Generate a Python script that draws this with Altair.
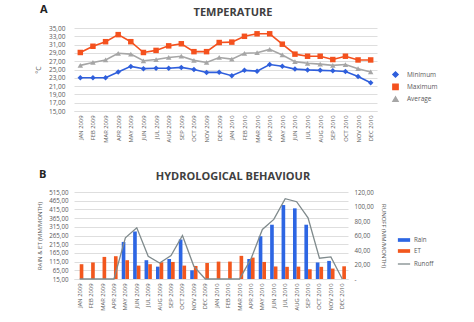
import altair as alt
import pandas as pd

months = ["JAN 2009", "FEB 2009", "MAR 2009", "APR 2009", "MAY 2009", "JUN 2009",
          "JUL 2009", "AUG 2009", "SEP 2009", "OCT 2009", "NOV 2009", "DEC 2009",
          "JAN 2010", "FEB 2010", "MAR 2010", "APR 2010", "MAY 2010", "JUN 2010",
          "JUL 2010", "AUG 2010", "SEP 2010", "OCT 2010", "NOV 2010", "DEC 2010"]

t_min = [23.0, 23.0, 23.0, 24.4, 25.75, 25.2, 25.3, 25.3, 25.5, 25.0, 24.3, 24.35,
         23.5, 24.8, 24.6, 26.2, 25.8, 25.1, 24.9, 24.8, 24.7, 24.5, 23.3, 21.8]
t_max = [29.1, 30.6, 31.7, 33.4, 31.7, 29.1, 29.6, 30.7, 31.2, 29.3, 29.3, 31.5,
         31.6, 33.0, 33.6, 33.6, 31.1, 28.7, 28.2, 28.2, 27.4, 28.2, 27.3, 27.3]
t_avg = [26.0, 26.7, 27.3, 28.9, 28.7, 27.1, 27.4, 27.9, 28.2, 27.2, 26.7, 27.9,
         27.5, 28.9, 29.05, 29.85, 28.5, 26.9, 26.5, 26.3, 26.0, 26.2, 25.2, 24.4]
temp_ticks = [15, 17, 19, 21, 23, 25, 27, 29, 31, 33, 35]

rain = [0, 0, 0, 0, 228, 288, 123, 86, 130, 242, 65, 0,
        0, 0, 0, 130, 261, 327, 440, 421, 327, 110, 119, 0]
et = [100, 110, 142, 146, 123, 92, 100, 111, 113, 92, 90, 107,
      115, 115, 148, 138, 113, 87, 85, 86, 71, 85, 75, 88]
runoff = [0, 0, 0, 0, 56.8, 70.6, 31.4, 22.1, 32.4, 60.0, 17.5, 0,
          0, 0, 0, 27.7, 68.4, 82.2, 110.7, 106.6, 84.4, 28.6, 30.4, 0]
rain_ticks = [15, 65, 115, 165, 215, 265, 315, 365, 415, 465, 515]
runoff_ticks = [0, 20, 40, 60, 80, 100, 120]

series_names = ["Minimum", "Maximum", "Average"]
series_colors = ["#2f5fdc", "#f4511e", "#a6a6a6"]
series_shapes = ["diamond", "square", "triangle-up"]

FONT = "Open Sans"
LBL = "#595959"
GRID = "#dedede"
num_expr = "replace(format(datum.value, '.2f'), '.', ',')"

temp_df = pd.DataFrame({
    "month": months * 3,
    "series": ["Minimum"] * 24 + ["Maximum"] * 24 + ["Average"] * 24,
    "value": t_min + t_max + t_avg,
})

x_t = alt.X("month:N", sort=months,
            scale=alt.Scale(type="point", padding=0.5),
            axis=alt.Axis(title=None, labelAngle=-90, labelFontSize=5.8, labelColor=LBL,
                          ticks=False, domainColor=GRID, labelPadding=4, grid=False,
                          labelFont=FONT))
y_t = alt.Y("value:Q", scale=alt.Scale(domain=[15, 35], nice=False, zero=False),
            axis=alt.Axis(values=temp_ticks, title="°C", labelExpr=num_expr,
                          labelFontSize=6.5, labelColor=LBL, labelFont=FONT,
                          domain=False, ticks=False, gridColor=GRID, labelPadding=9,
                          titleFontSize=7, titleColor=LBL, titleFont=FONT,
                          titleFontWeight="normal", titlePadding=7))

leg_t = dict(title=None, orient="none", legendX=318, legendY=43, padding=0,
             symbolSize=30, symbolStrokeWidth=1.2, labelFontSize=6.5, labelFont=FONT,
             labelColor=LBL, rowPadding=1.3, labelOffset=8)

base_t = alt.Chart(temp_df)
lines_t = base_t.mark_line(strokeWidth=1.6).encode(
    x=x_t, y=y_t,
    stroke=alt.Stroke("series:N", scale=alt.Scale(domain=series_names, range=series_colors),
                      legend=alt.Legend(**leg_t)),
)
points_t = base_t.mark_point(filled=True, size=30, opacity=1, strokeWidth=0).encode(
    x=x_t, y=y_t,
    fill=alt.Fill("series:N", scale=alt.Scale(domain=series_names, range=series_colors),
                  legend=alt.Legend(**leg_t)),
    shape=alt.Shape("series:N", scale=alt.Scale(domain=series_names, range=series_shapes),
                    legend=alt.Legend(**leg_t)),
)
lab_a = alt.Chart(pd.DataFrame({"t": ["A"]})).mark_text(
    font=FONT, fontSize=11, fontWeight="bold", align="left", baseline="middle", color="#222222"
).encode(text="t:N", x=alt.value(-34), y=alt.value(-18))
title_a = alt.Chart(pd.DataFrame({"t": ["TEMPERATURE"]})).mark_text(
    font=FONT, fontSize=11, fontWeight="bold", align="center", baseline="middle", color="#404040"
).encode(text="t:N", x=alt.value(159), y=alt.value(-15))
top = alt.layer(lines_t, points_t, lab_a, title_a).properties(width=303, height=83)

hyd_df = pd.DataFrame({"month": months, "Rain": rain, "ET": et, "Runoff": runoff})
base_b = alt.Chart(hyd_df)
x_b = alt.X("month:N", sort=months,
            scale=alt.Scale(type="band", paddingInner=0.36, paddingOuter=0.18),
            axis=alt.Axis(title=None, labelAngle=-90, labelFontSize=5.8, labelColor=LBL,
                          ticks=False, domainColor=GRID, labelPadding=4, grid=False,
                          labelFont=FONT))
bars = base_b.transform_fold(["Rain", "ET"], as_=["key", "val"]).mark_bar().encode(
    x=x_b,
    xOffset=alt.XOffset("key:N", sort=["Rain", "ET"]),
    y=alt.Y("val:Q", scale=alt.Scale(domain=[15, 515], nice=False, zero=False, clamp=True),
            axis=alt.Axis(values=rain_ticks, title="RAIN & ET (MM/MONTH)", labelExpr=num_expr,
                          labelFontSize=6.2, labelColor=LBL, labelFont=FONT,
                          domain=False, ticks=False, gridColor=GRID, labelPadding=6,
                          titleFontSize=6, titleColor=LBL, titleFont=FONT,
                          titleFontWeight="normal", titlePadding=6)),
    color=alt.Color("key:N", scale=alt.Scale(domain=["Rain", "ET"], range=["#2d66e3", "#f2571d"]),
                    legend=alt.Legend(title=None, orient="none", legendX=323, legendY=41, padding=0,
                                      symbolType="M-1,-0.3H1V0.3H-1Z", symbolSize=150,
                                      labelFontSize=6.2, labelColor=LBL, labelFont=FONT,
                                      rowPadding=0, labelOffset=3)),
)
line_b = base_b.transform_calculate(series="'Runoff'").mark_line(strokeWidth=1.3).encode(
    x=x_b,
    y=alt.Y("Runoff:Q", scale=alt.Scale(domain=[0, 120], nice=False),
            axis=alt.Axis(orient="right", values=runoff_ticks, title="RUNOFF (MM/MONTH)",
                          labelExpr="datum.value == 0 ? '-' : " + num_expr,
                          labelFontSize=6.2, labelColor=LBL, labelFont=FONT, grid=False,
                          domain=False, ticks=False, labelPadding=6,
                          titleFontSize=6, titleColor=LBL, titleFont=FONT,
                          titleFontWeight="normal", titlePadding=7)),
    stroke=alt.Stroke("series:N", scale=alt.Scale(domain=["Runoff"], range=["#7f8a8c"]),
                      legend=alt.Legend(title=None, orient="none", legendX=323, legendY=65, padding=0,
                                        symbolType="stroke", symbolSize=150, symbolStrokeWidth=1.3,
                                        labelFontSize=6.2, labelColor=LBL, labelFont=FONT,
                                        labelOffset=3)),
)
lab_b = alt.Chart(pd.DataFrame({"t": ["B"]})).mark_text(
    font=FONT, fontSize=11, fontWeight="bold", align="left", baseline="middle", color="#222222"
).encode(text="t:N", x=alt.value(-35), y=alt.value(-17))
title_b = alt.Chart(pd.DataFrame({"t": ["HYDROLOGICAL BEHAVIOUR"]})).mark_text(
    font=FONT, fontSize=11, fontWeight="bold", align="center", baseline="middle", color="#404040"
).encode(text="t:N", x=alt.value(159), y=alt.value(-15))

bottom = alt.layer(bars, line_b, lab_b, title_b).resolve_scale(y="independent").properties(
    width=274, height=87,
)

chart = alt.vconcat(top, bottom, spacing=26).resolve_scale(
    color="independent", stroke="independent", fill="independent", shape="independent"
).resolve_legend(
    color="independent", stroke="independent", fill="independent", shape="independent"
).properties(
    padding={"left": 34, "top": 4, "right": 5, "bottom": 5}
).configure_view(stroke=None)

chart.save("out.html", embed_options={"renderer": "svg", "actions": False})
